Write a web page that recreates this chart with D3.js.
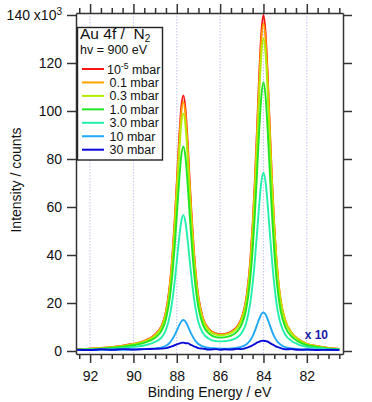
<!DOCTYPE html>
<html><head><meta charset="utf-8">
<script src="https://cdn.jsdelivr.net/npm/d3@7"></script>
<style>
html,body{margin:0;padding:0;background:#fff;}
svg{display:block;font-family:"Liberation Sans",Arial,Helvetica,sans-serif;}
</style></head>
<body><svg id="c" width="372" height="402"></svg>
<script>
// ---- data ----
const energy = [92.6,92.0,91.5,91.0,90.5,90.0,89.5,89.0,88.7,88.5,88.3,88.2,88.1,88.0,87.9,87.8,87.7,87.6,87.5,87.4,87.3,87.2,87.1,87.0,86.8,86.5,86.2,86.0,85.8,85.5,85.2,85.0,84.8,84.6,84.5,84.4,84.3,84.2,84.1,84.0,83.9,83.8,83.7,83.6,83.5,83.4,83.3,83.2,83.0,82.7,82.4,82.0,81.5,81.0,80.5];
const p1e5 = [0.6,1.0,1.3,1.6,2.2,3.0,4.2,6.9,10.6,16.5,29.5,40.2,53.9,70.2,87.1,100.9,106.5,101.1,87.3,70.4,54.2,40.6,30.1,22.5,13.9,9.0,7.3,7.0,7.1,8.0,10.4,14.0,21.6,38.7,52.6,70.5,91.9,114.2,132.4,140.0,132.2,113.8,91.4,69.9,51.8,37.8,27.6,20.5,12.6,7.5,5.0,3.0,2.0,1.3,0.9];
const p01 = [0.6,1.0,1.3,1.6,2.1,2.9,4.1,6.7,10.3,16.1,28.8,39.2,52.6,68.4,84.9,98.4,103.8,98.6,85.1,68.6,52.8,39.6,29.3,21.9,13.6,8.8,7.1,6.8,6.9,7.8,10.1,13.7,21.1,37.7,51.3,68.7,89.6,111.3,129.1,136.5,129.5,112.0,90.5,69.8,52.2,38.6,28.3,21.1,13.0,7.6,5.0,3.0,2.0,1.3,0.9];
const p03 = [0.6,0.9,1.2,1.5,2.0,2.8,3.9,6.4,9.9,15.3,27.4,37.4,50.1,65.3,81.0,93.8,99.0,94.0,81.2,65.5,50.4,37.8,28.0,20.9,12.9,8.4,6.8,6.6,6.7,7.5,9.8,13.1,20.1,36.0,48.9,65.6,85.5,106.2,123.1,130.2,123.6,107.0,86.3,66.2,49.5,36.4,26.7,20.0,12.3,7.3,4.8,2.9,1.9,1.2,0.8];
const p10 = [0.5,0.8,1.0,1.3,1.8,2.4,3.4,5.5,8.5,13.2,23.6,32.2,43.1,56.2,69.7,80.7,85.2,80.9,69.8,56.3,43.4,32.5,24.1,18.0,11.1,7.2,5.8,5.6,5.7,6.4,8.3,11.2,17.3,31.0,42.1,56.4,73.5,91.4,105.9,112.0,105.8,91.0,73.1,55.9,41.4,30.2,22.1,16.4,10.1,6.0,4.0,2.4,1.6,1.0,0.7];
const p30 = [0.4,0.6,0.7,0.9,1.2,1.7,2.3,3.8,5.7,8.8,15.7,21.4,28.7,37.3,46.3,53.6,56.6,53.7,46.4,37.4,28.8,21.6,16.1,12.0,7.6,5.0,4.1,4.0,4.1,4.5,5.7,7.6,11.6,20.6,28.0,37.5,48.8,60.6,70.3,74.3,70.2,60.4,48.5,37.1,27.6,20.1,14.8,11.1,6.9,4.2,2.8,1.7,1.2,0.8,0.6];
const p10mbar = [0.4,0.4,0.45,0.5,0.55,0.65,0.8,1.1,1.5,2.2,3.7,5.0,6.6,8.5,10.5,12.2,12.9,12.3,10.6,8.5,6.6,5.0,3.8,2.9,1.9,1.3,1.1,1.0,1.0,1.1,1.4,1.8,2.7,4.6,6.2,8.3,10.8,13.3,15.3,16.1,15.2,13.1,10.6,8.1,6.0,4.5,3.4,2.6,1.6,1.1,0.8,0.6,0.5,0.4,0.4];
const p30mbar = [0.5,0.4,0.7,0.5,0.8,0.6,0.8,0.9,1.0,1.2,1.7,2.0,2.4,2.8,3.1,3.4,3.5,3.2,3.3,2.8,2.4,1.9,1.6,1.2,1.0,0.6,0.8,0.5,0.7,0.6,0.9,0.8,1.3,1.9,2.4,2.9,3.5,3.8,4.2,4.3,4.1,3.9,3.3,2.8,2.3,1.8,1.5,1.2,0.7,0.8,0.5,0.6,0.4,0.5,0.4];
const seriesLabels = ["10", "0.1 mbar", "0.3 mbar", "1.0 mbar", "3.0 mbar", "10 mbar", "30 mbar"];
const xTicks = [92, 90, 88, 86, 84, 82];
const yTicks = [0, 20, 40, 60, 80, 100, 120, 140];
const legendTitle = "Au 4f /\u00a0 N";
const legendSub = "hv = 900 eV";
const scaleNote = "x 10";

// ---- styles ----
const colors = ["#ff1414", "#ffa000", "#b2ee00", "#22e622", "#22f0a8", "#1ea8f5", "#0a0ad8"];

const series = [p1e5, p01, p03, p10, p30, p10mbar, p30mbar];

const svg = d3.select("#c");
const L = 76, R = 343, T = 13, B = 354;
const x = d3.scaleLinear().domain([92.65, 80.33]).range([L, R]);
const y = d3.scaleLinear().domain([-1.25, 140.83]).range([B, T]);
const axisColor = "#333";

// gridlines
svg.append("g").selectAll("line").data(xTicks).join("line")
  .attr("x1", d => x(d)).attr("x2", d => x(d)).attr("y1", T).attr("y2", B)
  .attr("stroke", "#c4c4ee").attr("stroke-width", 1).attr("stroke-dasharray", "1.5,1.5");

// traces
const line = d3.line().x((d, i) => x(energy[i])).y(d => y(d)).curve(d3.curveMonotoneX);
svg.append("g").selectAll("path").data(series).join("path")
  .attr("d", d => line(d)).attr("fill", "none")
  .attr("stroke", (d, i) => colors[i]).attr("stroke-width", 1.9)
  .attr("stroke-linejoin", "round");

// minor ticks
const minor = d3.range(92.5, 80.4, -0.5).filter(v => !xTicks.includes(v));

function styleAxis(g) {
  g.selectAll("path.domain").attr("stroke", axisColor).attr("stroke-width", 1.5);
  g.selectAll(".tick line").attr("stroke", axisColor).attr("stroke-width", 1.5);
  g.selectAll("text").attr("fill", "#111").attr("font-size", 14)
    .attr("font-family", '"Liberation Sans",Arial,sans-serif');
}

// bottom axis
const gb = svg.append("g").attr("transform", `translate(0,${B})`)
  .call(d3.axisBottom(x).tickValues(xTicks).tickSize(9).tickPadding(8).tickSizeOuter(0).tickFormat(d3.format("d")));
styleAxis(gb);
svg.append("g").attr("transform", `translate(0,${B})`)
  .call(d3.axisBottom(x).tickValues(minor).tickSize(5).tickSizeOuter(0).tickFormat(""))
  .call(g => { g.select(".domain").remove(); styleAxis(g); });

// top axis
const gt = svg.append("g").attr("transform", `translate(0,${T})`)
  .call(d3.axisTop(x).tickValues(xTicks).tickSize(9).tickSizeOuter(0).tickFormat(""));
styleAxis(gt);
svg.append("g").attr("transform", `translate(0,${T})`)
  .call(d3.axisTop(x).tickValues(minor).tickSize(5).tickSizeOuter(0).tickFormat(""))
  .call(g => { g.select(".domain").remove(); styleAxis(g); });

// left axis
const gl = svg.append("g").attr("transform", `translate(${L},0)`)
  .call(d3.axisLeft(y).tickValues(yTicks).tickSize(9).tickPadding(5).tickSizeOuter(0)
    .tickFormat(d => d === 140 ? "140 x10" : d));
styleAxis(gl);
gl.selectAll(".tick text").filter(d => d === 140)
  .append("tspan").attr("dy", "-0.45em").attr("font-size", 10).text("3");

// right axis
const gr = svg.append("g").attr("transform", `translate(${R},0)`)
  .call(d3.axisRight(y).tickValues(yTicks).tickSize(9).tickSizeOuter(0).tickFormat(""));
styleAxis(gr);

// axis titles
svg.append("text").attr("x", (L + R) / 2).attr("y", 397).attr("text-anchor", "middle")
  .attr("font-size", 14).attr("fill", "#111").text("Binding Energy / eV");
svg.append("text").attr("transform", "translate(21,180) rotate(-90)").attr("text-anchor", "middle")
  .attr("font-size", 14).attr("fill", "#111").text("Intensity / counts");

// x 10 note
svg.append("text").attr("x", x(82.1)).attr("y", 338.5).attr("font-size", 12).attr("font-weight", "bold")
  .attr("fill", "#1a1aa8").text(scaleNote);

// legend
const lg = svg.append("g");
lg.append("rect").attr("x", 77.5).attr("y", 27.5).attr("width", 85).attr("height", 132.5)
  .attr("fill", "#fff").attr("stroke", "#222").attr("stroke-width", 1.4);
const t1 = lg.append("text").attr("x", 80).attr("y", 38.5).attr("font-size", 15.5).attr("fill", "#111");
t1.append("tspan").text(legendTitle);
t1.append("tspan").attr("dy", 3).attr("font-size", 10).text("2");
lg.append("text").attr("x", 80).attr("y", 54).attr("font-size", 12.5).attr("fill", "#111").text(legendSub);
seriesLabels.forEach((lab, i) => {
  const yy = 69 + i * 13.45;
  lg.append("line").attr("x1", 82).attr("x2", 104).attr("y1", yy).attr("y2", yy)
    .attr("stroke", colors[i]).attr("stroke-width", 2);
  const tx = lg.append("text").attr("x", i === 0 ? 107 : 109.5).attr("y", yy + 4.5)
    .attr("font-size", 12.5).attr("fill", "#111");
  if (i === 0) {
    tx.append("tspan").text(lab);
    tx.append("tspan").attr("dy", -5).attr("font-size", 8.5).text("-5");
    tx.append("tspan").attr("dy", 5).text(" mbar");
  } else {
    tx.text(lab);
  }
});
</script></body></html>
